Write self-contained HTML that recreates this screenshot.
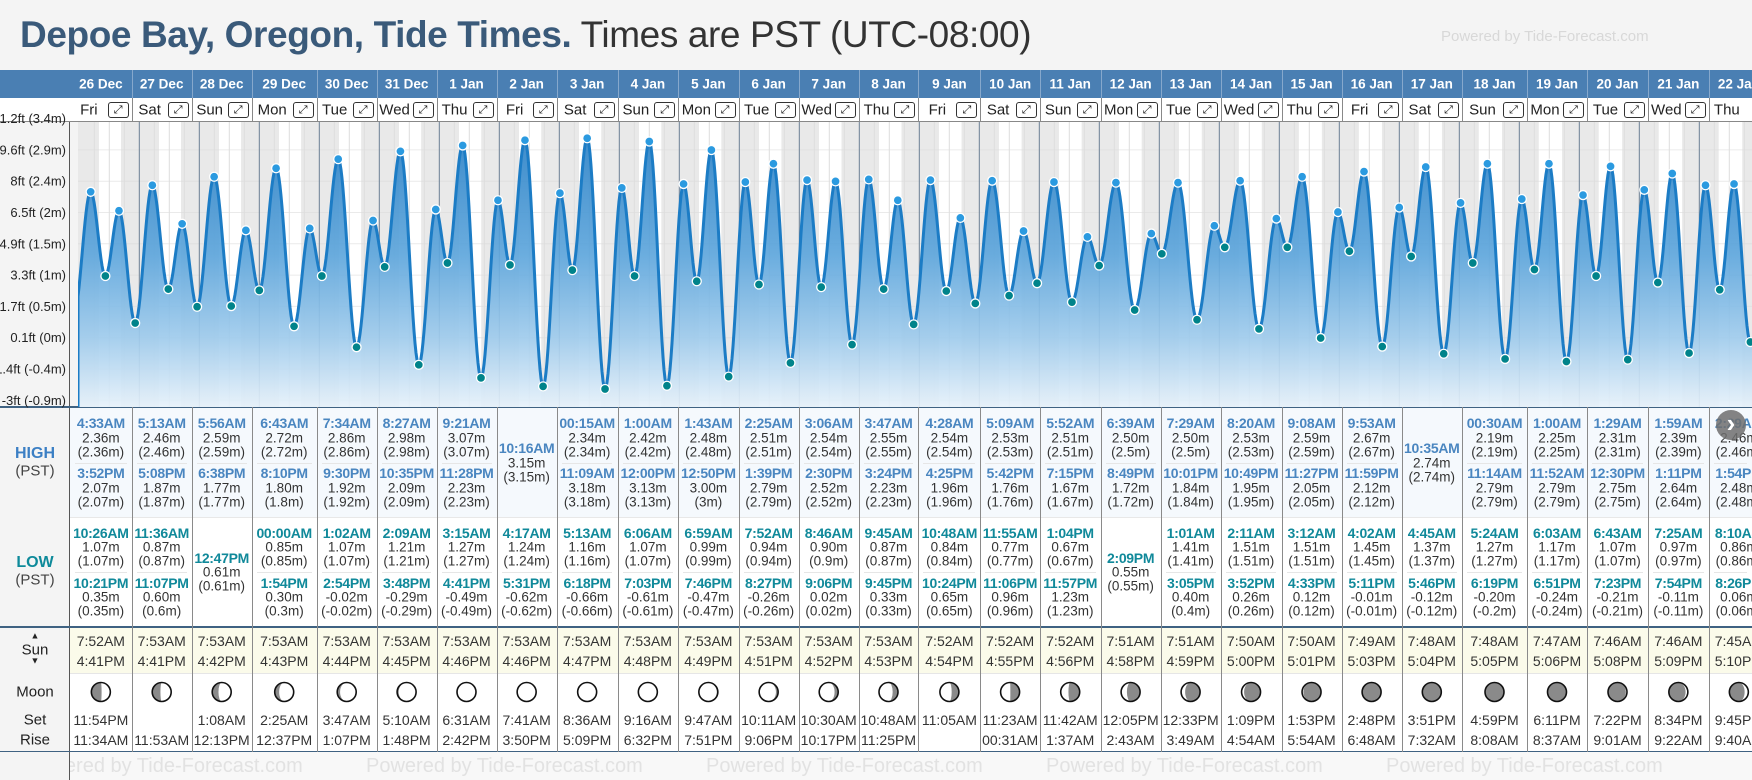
<!DOCTYPE html>
<html><head><meta charset="utf-8">
<style>
html,body{margin:0;width:1752px;height:780px;overflow:hidden}
body{background:#f4f4f4;font-family:"Liberation Sans",sans-serif;position:relative}
.a{position:absolute}
.c{position:absolute;text-align:center;white-space:nowrap;transform:translate(-50%,-50%);line-height:1}
.ht{font-weight:bold;font-size:14px;color:#4a86c0;letter-spacing:-0.3px}
.lt{font-weight:bold;font-size:14px;color:#10899a;letter-spacing:-0.3px}
.v{font-size:13.5px;color:#333}
.s{font-size:14px;color:#333}
</style></head>
<body>
<div class="a" style="left:20px;top:15px;font-size:37px;line-height:40px;white-space:nowrap;letter-spacing:-0.4px"><span style="font-weight:bold;color:#3a5a7a">Depoe Bay, Oregon, Tide Times.</span> <span style="color:#333">Times are PST (UTC-08:00)</span></div>
<div class="a" style="left:1441px;top:28px;font-size:15px;color:#d8d8d8;white-space:nowrap">Powered by Tide-Forecast.com</div>
<div class="a" style="left:0;top:70px;width:1752px;height:28px;background:#4a7fb3"></div>
<div class="a" style="left:0;top:98px;width:1752px;height:23px;background:#fff;border-bottom:1px solid #888"></div>
<div class="a" style="left:0;top:122px;width:69px;height:630px;background:#f4f4f4;border-right:1px solid #555"></div>
<div class="a" style="left:70px;top:407px;width:1682px;height:110px;background:#f5f9fd"></div>
<div class="a" style="left:70px;top:517px;width:1682px;height:110px;background:#fff;border-top:1px solid #e8e8e8"></div>
<div class="a" style="left:70px;top:627px;width:1682px;height:46px;background:#fbfbea"></div>
<div class="a" style="left:70px;top:673px;width:1682px;height:79px;background:#fff;border-top:1px solid #e6e6e6"></div>
<div class="a" style="left:0;top:406px;width:1752px;height:2px;background:#3f6282"></div>
<div class="a" style="left:0;top:626px;width:1752px;height:2px;background:#3f6282"></div>
<div class="a" style="left:0;top:751px;width:1752px;height:1px;background:#3f6282"></div>
<div class="a" style="left:70px;top:752px;width:1682px;height:28px;background:#f8f8f8"></div>

<svg id="chart" class="a" style="left:0;top:0" width="1752" height="780">
<defs>
<clipPath id="clip"><rect x="78" y="122" width="1674" height="285"/></clipPath>
<linearGradient id="fillg" gradientUnits="userSpaceOnUse" x1="0" y1="130" x2="0" y2="407">
<stop offset="0" stop-color="#2a80c5"/><stop offset="0.45" stop-color="#5ea6dc"/><stop offset="0.75" stop-color="#9fcbec"/><stop offset="1" stop-color="#e6f1fa"/>
</linearGradient>
</defs>
<g id="gback" clip-path="url(#clip)"></g>
<g id="gcurve" clip-path="url(#clip)"></g>
<g id="gaxis"></g>
</svg>

<script>
const dayLabels=["26 Dec","27 Dec","28 Dec","29 Dec","30 Dec","31 Dec","1 Jan","2 Jan","3 Jan","4 Jan","5 Jan","6 Jan","7 Jan","8 Jan","9 Jan","10 Jan","11 Jan","12 Jan","13 Jan","14 Jan","15 Jan","16 Jan","17 Jan","18 Jan","19 Jan","20 Jan","21 Jan","22 Jan"];
const weekdays=["Fri","Sat","Sun","Mon","Tue","Wed","Thu","Fri","Sat","Sun","Mon","Tue","Wed","Thu","Fri","Sat","Sun","Mon","Tue","Wed","Thu","Fri","Sat","Sun","Mon","Tue","Wed","Thu"];
const highTimes=[["4:33AM","3:52PM"],["5:13AM","5:08PM"],["5:56AM","6:38PM"],["6:43AM","8:10PM"],["7:34AM","9:30PM"],["8:27AM","10:35PM"],["9:21AM","11:28PM"],["10:16AM"],["00:15AM","11:09AM"],["1:00AM","12:00PM"],["1:43AM","12:50PM"],["2:25AM","1:39PM"],["3:06AM","2:30PM"],["3:47AM","3:24PM"],["4:28AM","4:25PM"],["5:09AM","5:42PM"],["5:52AM","7:15PM"],["6:39AM","8:49PM"],["7:29AM","10:01PM"],["8:20AM","10:49PM"],["9:08AM","11:27PM"],["9:53AM","11:59PM"],["10:35AM"],["00:30AM","11:14AM"],["1:00AM","11:52AM"],["1:29AM","12:30PM"],["1:59AM","1:11PM"],["2:29AM","1:54PM"]];
const highHeights=[[2.36,2.07],[2.46,1.87],[2.59,1.77],[2.72,1.80],[2.86,1.92],[2.98,2.09],[3.07,2.23],[3.15],[2.34,3.18],[2.42,3.13],[2.48,3.00],[2.51,2.79],[2.54,2.52],[2.55,2.23],[2.54,1.96],[2.53,1.76],[2.51,1.67],[2.50,1.72],[2.50,1.84],[2.53,1.95],[2.59,2.05],[2.67,2.12],[2.74],[2.19,2.79],[2.25,2.79],[2.31,2.75],[2.39,2.64],[2.46,2.48]];
const lowTimes=[["10:26AM","10:21PM"],["11:36AM","11:07PM"],["12:47PM"],["00:00AM","1:54PM"],["1:02AM","2:54PM"],["2:09AM","3:48PM"],["3:15AM","4:41PM"],["4:17AM","5:31PM"],["5:13AM","6:18PM"],["6:06AM","7:03PM"],["6:59AM","7:46PM"],["7:52AM","8:27PM"],["8:46AM","9:06PM"],["9:45AM","9:45PM"],["10:48AM","10:24PM"],["11:55AM","11:06PM"],["1:04PM","11:57PM"],["2:09PM"],["1:01AM","3:05PM"],["2:11AM","3:52PM"],["3:12AM","4:33PM"],["4:02AM","5:11PM"],["4:45AM","5:46PM"],["5:24AM","6:19PM"],["6:03AM","6:51PM"],["6:43AM","7:23PM"],["7:25AM","7:54PM"],["8:10AM","8:26PM"]];
const lowHeights=[[1.07,0.35],[0.87,0.60],[0.61],[0.85,0.30],[1.07,-0.02],[1.21,-0.29],[1.27,-0.49],[1.24,-0.62],[1.16,-0.66],[1.07,-0.61],[0.99,-0.47],[0.94,-0.26],[0.90,0.02],[0.87,0.33],[0.84,0.65],[0.77,0.96],[0.67,1.23],[0.55],[1.41,0.40],[1.51,0.26],[1.51,0.12],[1.45,-0.01],[1.37,-0.12],[1.27,-0.20],[1.17,-0.24],[1.07,-0.21],[0.97,-0.11],[0.86,0.06]];
const edgePoints=[[-1,"9:40PM",0.45],[28,"3:00AM",2.52]];
const sunrise=["7:52AM","7:53AM","7:53AM","7:53AM","7:53AM","7:53AM","7:53AM","7:53AM","7:53AM","7:53AM","7:53AM","7:53AM","7:53AM","7:53AM","7:52AM","7:52AM","7:52AM","7:51AM","7:51AM","7:50AM","7:50AM","7:49AM","7:48AM","7:48AM","7:47AM","7:46AM","7:46AM","7:45AM"];
const sunset=["4:41PM","4:41PM","4:42PM","4:43PM","4:44PM","4:45PM","4:46PM","4:46PM","4:47PM","4:48PM","4:49PM","4:51PM","4:52PM","4:53PM","4:54PM","4:55PM","4:56PM","4:58PM","4:59PM","5:00PM","5:01PM","5:03PM","5:04PM","5:05PM","5:06PM","5:08PM","5:09PM","5:10PM"];
const moonSet=["11:54PM","","1:08AM","2:25AM","3:47AM","5:10AM","6:31AM","7:41AM","8:36AM","9:16AM","9:47AM","10:11AM","10:30AM","10:48AM","11:05AM","11:23AM","11:42AM","12:05PM","12:33PM","1:09PM","1:53PM","2:48PM","3:51PM","4:59PM","6:11PM","7:22PM","8:34PM","9:45PM"];
const moonRise=["11:34AM","11:53AM","12:13PM","12:37PM","1:07PM","1:48PM","2:42PM","3:50PM","5:09PM","6:32PM","7:51PM","9:06PM","10:17PM","11:25PM","","00:31AM","1:37AM","2:43AM","3:49AM","4:54AM","5:54AM","6:48AM","7:32AM","8:08AM","8:37AM","9:01AM","9:22AM","9:40AM"];
const moonAgeDays=[7,8,9,10,11,12,13,14,15,16,17,18,19,20,21,22,23,24,25,26,27,28,28.8,0.3,1.3,2.3,3.3,4.3];
const yTickLabels=["-3ft (-0.9m)","-1.4ft (-0.4m)","0.1ft (0m)","1.7ft (0.5m)","3.3ft (1m)","4.9ft (1.5m)","6.5ft (2m)","8ft (2.4m)","9.6ft (2.9m)","11.2ft (3.4m)"];

const colEdges=[70,131.7,191.7,251.7,316.7,376.7,436.5,496.5,556.8,617.5,678.2,738.5,798.8,858.6,918.4,980.4,1039.8,1100.6,1160.6,1220.6,1281.5,1341.6,1401.6,1462,1527,1587,1648,1708.7,1769];
const NS="http://www.w3.org/2000/svg";
function xOf(d){return 79.3+60*d;}
function yOf(m){return 345.9-65.3*m;}
function tickY(i){return 337.7-31.3*(i-2);}
function hrs(t){const m=t.match(/(\d+):(\d+)(AM|PM)/);let h=(+m[1])%12;if(m[3]==="PM")h+=12;return h+(+m[2])/60;}
function sv(tag,attrs,parent){const e=document.createElementNS(NS,tag);for(const k in attrs)e.setAttribute(k,attrs[k]);parent.appendChild(e);return e;}
function txt(x,y,s,cls,css){const d=document.createElement('div');d.className='c '+(cls||'');d.style.left=x+'px';d.style.top=y+'px';d.textContent=s;if(css)d.style.cssText+=css;document.body.appendChild(d);return d;}
const gback=document.getElementById('gback'),gcurve=document.getElementById('gcurve'),gaxis=document.getElementById('gaxis');

sv('rect',{x:78,y:122,width:1674,height:285,fill:'#fff'},gback);
for(let i=-1;i<dayLabels.length;i++){
  const s=i<0?-1+16.7/24:i+hrs(sunset[i])/24;
  const r=(i+1<dayLabels.length)?i+1+hrs(sunrise[i+1])/24:i+1+7.7/24;
  const n=sv('rect',{x:xOf(s),y:122,width:xOf(r)-xOf(s),height:285,fill:'#e9e9e9'},gback);
  
  
}
for(let q=0;q<dayLabels.length*4;q++){
  if(q%4===0)continue;
  const l=sv('line',{x1:xOf(q/4),x2:xOf(q/4),y1:122,y2:407,stroke:'#dedede','stroke-width':1},gback);
  
  
}
yTickLabels.forEach((lab,i)=>{
  const l=sv('line',{x1:78,x2:1752,y1:tickY(i),y2:tickY(i),stroke:'#dcdcdc','stroke-opacity':0.6},gback);
  
  
});
for(let i=1;i<=dayLabels.length;i++){
  const l=sv('line',{x1:xOf(i),x2:xOf(i),y1:122,y2:407,stroke:'#6b7f94','stroke-width':1},gback);
  
  
}

const pts=[];
highTimes.forEach((a,i)=>a.forEach((t,j)=>pts.push({d:i+hrs(t)/24,m:highHeights[i][j],hi:true})));
lowTimes.forEach((a,i)=>a.forEach((t,j)=>pts.push({d:i+hrs(t)/24,m:lowHeights[i][j],hi:false})));
edgePoints.forEach(e=>pts.push({d:e[0]+hrs(e[1])/24,m:e[2],edge:true}));
pts.sort((a,b)=>a.d-b.d);
function level(d){
  for(let k=0;k<pts.length-1;k++){
    if(d>=pts[k].d&&d<=pts[k+1].d){const t=(d-pts[k].d)/(pts[k+1].d-pts[k].d);return pts[k].m+(pts[k+1].m-pts[k].m)*(1-Math.cos(Math.PI*t))/2;}
  }
  return pts[pts.length-1].m;
}
let line='',x0=78;
for(let x=x0;x<=1752;x+=1){const y=yOf(level((x-79.3)/60));line+=(x===x0?'M':'L')+x+','+y.toFixed(1);}
const area=sv('path',{d:'M78,407 L'+line.slice(1)+' L1752,407 Z',fill:'url(#fillg)','fill-opacity':0.92},gcurve);


const stroke=sv('path',{d:'M78,407 L'+line.slice(1),fill:'none',stroke:'#1c7cc5','stroke-width':3,'stroke-linejoin':'round'},gcurve);


pts.forEach(p=>{
  if(p.edge)return;
  const c=sv('circle',{cx:xOf(p.d),cy:yOf(p.m),r:4.5,fill:p.hi?'#2b9ae0':'#00838a',stroke:'#fff','stroke-width':1.3},gcurve);
  
  
});
yTickLabels.forEach((lab,i)=>{
  const y=tickY(i);
  if(y<118)return;
  const t=sv('text',{x:66,y:y+4.5,'text-anchor':'end','font-size':13,fill:'#222','font-family':'Liberation Sans, sans-serif'},gaxis);
  t.textContent=lab;
  
  
});
const cov=document.createElement('div');cov.className='a';cov.style.cssText='left:0;top:98px;width:70px;height:23px;background:#fff;border-bottom:1px solid #888';document.body.appendChild(cov);



for(let i=0;i<dayLabels.length;i++){
  const L=colEdges[i],R=colEdges[i+1],cx=(L+R)/2;
  if(R<1752){
    const sep=document.createElement('div');sep.className='a';sep.style.cssText=`left:${R}px;top:70px;width:1px;height:28px;background:#86a8cc`;document.body.appendChild(sep);
    
    
    const sep2=document.createElement('div');sep2.className='a';sep2.style.cssText=`left:${R}px;top:98px;width:1px;height:24px;background:#888`;document.body.appendChild(sep2);
    
    
    const sep3=document.createElement('div');sep3.className='a';sep3.style.cssText=`left:${R}px;top:407px;width:1px;height:345px;background:#8a8a8a`;document.body.appendChild(sep3);
    
    
  }
  const dl=txt(cx,84,dayLabels[i],'','font-weight:bold;font-size:13.5px;color:#fff');
  
  
  const wd=txt((L+R-24)/2,110,weekdays[i],'','font-size:15px;color:#222');
  
  
  if(R-24<1740){
    const ex=document.createElement('div');ex.className='a';ex.style.cssText=`left:${R-24}px;top:102px;width:19px;height:14px;border:1px solid #333;border-radius:3px;background:#fff;font-size:11px;line-height:14px;text-align:center;color:#111`;ex.textContent='⤢';document.body.appendChild(ex);
    
    
  }
  const hy=highTimes[i].length===2?[[423,437.7,451.7],[473,487.7,501.7]]:[[448,462.5,476.5]];
  highTimes[i].forEach((t,j)=>{
    const a=txt(cx,hy[j][0],t,'ht');
    
    
    const b=txt(cx,hy[j][1],highHeights[i][j].toFixed(2)+'m','v');
    
    
    const c=txt(cx,hy[j][2],'('+String(+highHeights[i][j])+'m)','v');
    
    
  });
  if(highTimes[i].length===2){const s=document.createElement('div');s.className='a';s.style.cssText=`left:${L+5}px;top:463px;width:${Math.min(R,1752)-L-10}px;height:1px;background:#e6e6e6`;document.body.appendChild(s);
    
    }
  const ly=lowTimes[i].length===2?[[532.7,547,561],[582.7,597,611]]:[[557.7,572,586]];
  lowTimes[i].forEach((t,j)=>{
    const a=txt(cx,ly[j][0],t,'lt');
    
    
    const b=txt(cx,ly[j][1],lowHeights[i][j].toFixed(2)+'m','v');
    
    
    const c=txt(cx,ly[j][2],'('+String(+lowHeights[i][j])+'m)','v');
    
    
  });
  if(lowTimes[i].length===2){const s=document.createElement('div');s.className='a';s.style.cssText=`left:${L+5}px;top:572px;width:${Math.min(R,1752)-L-10}px;height:1px;background:#e6e6e6`;document.body.appendChild(s);
    
    }
  const sr=txt(cx,641,sunrise[i],'s');
  
  
  const ss=txt(cx,661,sunset[i],'s');
  
  
  const ms=txt(cx,720,moonSet[i],'s');
  
  
  const mr=txt(cx,740,moonRise[i],'s');
  
  
  const p=moonAgeDays[i]/29.5, r=9.5, my=692;
  const k=Math.cos(2*Math.PI*p), rx=Math.abs(k)*r;
  const g=sv('g',{},document.getElementById('chart'));
  
  
  sv('circle',{cx:cx,cy:my,r:r,fill:'#8a8a8a'},g);
  let d;
  if(p<0.5){d=`M${cx},${my-r} A${r},${r} 0 0 1 ${cx},${my+r} A${rx},${r} 0 0 ${k>0?0:1} ${cx},${my-r} Z`;}
  else{d=`M${cx},${my-r} A${r},${r} 0 0 0 ${cx},${my+r} A${rx},${r} 0 0 ${k>0?1:0} ${cx},${my-r} Z`;}
  sv('path',{d:d,fill:'#fff'},g);
  sv('circle',{cx:cx,cy:my,r:r,fill:'none',stroke:'#111','stroke-width':1.6},g);
}
document.body.appendChild(document.getElementById('chart'));
const lbls=[[35,454,'HIGH','font-weight:bold;font-size:16px;color:#3b7fc4'],[35,471,'(PST)','font-size:15px;color:#444'],[35,563,'LOW','font-weight:bold;font-size:16px;color:#0e8a9a'],[35,580,'(PST)','font-size:15px;color:#444'],[35,636,'▲','font-size:9px;color:#222'],[35,650,'Sun','font-size:15px;color:#222'],[35,661,'▼','font-size:9px;color:#222'],[35,692,'Moon','font-size:15px;color:#222'],[35,720,'Set','font-size:15px;color:#222'],[35,740,'Rise','font-size:15px;color:#222']];
lbls.forEach(l=>{const e=txt(l[0],l[1],l[2],'',l[3]);
  
  });
for(let k=0;k<5;k++){
  const f=document.createElement('div');f.className='a';f.style.cssText=`left:${26+340*k}px;top:755px;font-size:20px;color:#e2e2e2;white-space:nowrap`;f.textContent='Powered by Tide-Forecast.com';document.body.appendChild(f);
  
  
}
const lc=document.createElement('div');lc.className='a';lc.style.cssText='left:0;top:752px;width:69px;height:28px;background:#f4f4f4;border-right:1px solid #555';document.body.appendChild(lc);


const nx=document.createElement('div');nx.className='a';nx.style.cssText='left:1716px;top:410px;width:30px;height:30px;border-radius:50%;background:rgba(110,110,110,.85);color:#fff;font-size:26px;line-height:27px;text-align:center;font-weight:bold';nx.textContent='›';document.body.appendChild(nx);


</script>
</body></html>
